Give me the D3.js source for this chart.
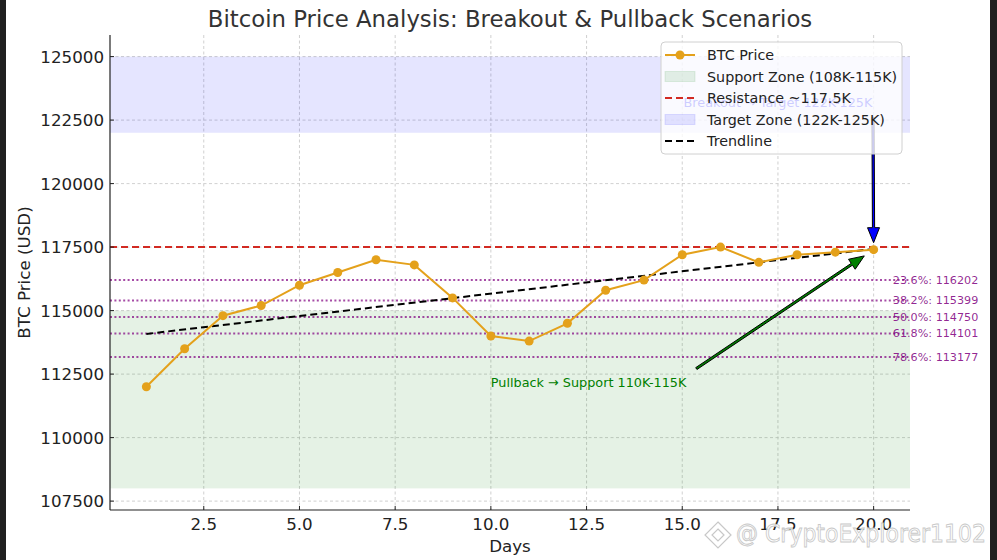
<!DOCTYPE html>
<html>
<head>
<meta charset="utf-8">
<script src="https://cdn.jsdelivr.net/npm/d3@7"></script>
<style>
  body { margin: 0; background: #fff; }
  svg { display: block; font-family: "DejaVu Sans", sans-serif; }
</style>
</head>
<body>
<div id="chart"></div>
<script>
// chart data
const days = [1, 2, 3, 4, 5, 6, 7, 8, 9, 10, 11, 12, 13, 14, 15, 16, 17, 18, 19, 20];
const prices = [112000, 113500, 114800, 115200, 116000, 116500, 117000, 116800, 115500, 114000,
                113800, 114500, 115800, 116200, 117200, 117500, 116900, 117200, 117300, 117400];
const fibRatios = [0.236, 0.382, 0.5, 0.618, 0.786];
const supportZone = [108000, 115000];
const targetZone = [122000, 125000];
const resistance = 117500;
const xTicks = [2.5, 5.0, 7.5, 10.0, 12.5, 15.0, 17.5, 20.0];
const yTicks = [107500, 110000, 112500, 115000, 117500, 120000, 122500, 125000];
const legendLabels = ["BTC Price", "Support Zone (108K-115K)", "Resistance ~117.5K", "Target Zone (122K-125K)", "Trendline"];
// annotations: text position -> arrow target
const breakoutText = "Breakout \u2192 Target 122K-125K";
const breakoutAt = [17.5, 123000];
const pullbackText = "Pullback \u2192 Support 110K-115K";
const pullbackAt = [10, 112000];
const arrowTarget = [20, 117400];

const W = 997, H = 560;
const pLeft = 110, pRight = 910, pTop = 35, pBottom = 510;

const svg = d3.select("#chart").append("svg")
  .attr("width", W).attr("height", H);

// dark screenshot edges
svg.append("rect").attr("x", 0).attr("y", 0).attr("width", 6).attr("height", H).attr("fill", "#202020");
svg.append("rect").attr("x", 990).attr("y", 0).attr("width", 7).attr("height", H).attr("fill", "#202020");

const x = d3.scaleLinear().domain([0.05, 20.95]).range([pLeft, pRight]);
const y = d3.scaleLinear().domain([107150, 125850]).range([pBottom, pTop]);

// grid
const grid = svg.append("g").attr("stroke", "#c4c4c4").attr("stroke-width", 0.8).attr("stroke-dasharray", "3,2.5");
grid.selectAll(".gx").data(xTicks).enter().append("line")
  .attr("x1", d => x(d)).attr("x2", d => x(d)).attr("y1", pTop).attr("y2", pBottom);
grid.selectAll(".gy").data(yTicks).enter().append("line")
  .attr("x1", pLeft).attr("x2", pRight).attr("y1", d => y(d)).attr("y2", d => y(d));

// zones
svg.append("rect").attr("x", pLeft).attr("width", pRight - pLeft)
  .attr("y", y(supportZone[1])).attr("height", y(supportZone[0]) - y(supportZone[1]))
  .attr("fill", "green").attr("fill-opacity", 0.1);
svg.append("rect").attr("x", pLeft).attr("width", pRight - pLeft)
  .attr("y", y(targetZone[1])).attr("height", y(targetZone[0]) - y(targetZone[1]))
  .attr("fill", "blue").attr("fill-opacity", 0.1);

// resistance
svg.append("line").attr("x1", pLeft).attr("x2", pRight)
  .attr("y1", y(resistance)).attr("y2", y(resistance))
  .attr("stroke", "#d22a22").attr("stroke-width", 2).attr("stroke-dasharray", "7,4");

// fibonacci retracement levels
const high = d3.max(prices), low = d3.min(prices);
const fibs = fibRatios.map(r => ({ r, v: high - r * (high - low) }));
svg.selectAll(".fib").data(fibs).enter().append("line")
  .attr("x1", pLeft).attr("x2", pRight)
  .attr("y1", d => y(d.v)).attr("y2", d => y(d.v))
  .attr("stroke", "#800080").attr("stroke-opacity", 0.7)
  .attr("stroke-width", 2).attr("stroke-dasharray", "2,2.4");
svg.selectAll(".fibt").data(fibs).enter().append("text")
  .attr("x", x(20.5)).attr("y", d => y(d.v)).attr("dy", "0.35em")
  .attr("font-size", 11.2).attr("fill", "#800080").attr("fill-opacity", 0.85)
  .text(d => `${(d.r * 100).toFixed(1)}%: ${Math.round(d.v)}`);

// trendline (least squares fit of price on day)
const mx = d3.mean(days), my = d3.mean(prices);
const slope = d3.sum(days, (d, i) => (d - mx) * (prices[i] - my)) / d3.sum(days, d => (d - mx) * (d - mx));
const trend = d => my + slope * (d - mx);
const tx = d3.extent(days);
svg.append("line")
  .attr("x1", x(tx[0])).attr("y1", y(trend(tx[0])))
  .attr("x2", x(tx[1])).attr("y2", y(trend(tx[1])))
  .attr("stroke", "#000").attr("stroke-width", 2).attr("stroke-dasharray", "7,4");

// price line
const series = days.map((d, i) => ({ d, p: prices[i] }));
svg.append("path").datum(series)
  .attr("fill", "none").attr("stroke", "#e4a11b").attr("stroke-width", 2)
  .attr("d", d3.line().x(d => x(d.d)).y(d => y(d.p)));
svg.selectAll(".pt").data(series).enter().append("circle")
  .attr("cx", d => x(d.d)).attr("cy", d => y(d.p)).attr("r", 4.5)
  .attr("fill", "#e4a11b");

// annotations with arrows (arrow starts at nearest text bbox edge, shrunk 5%)
function arrowPoly(x0, y0, x1, y1, w, hw, hl) {
  const dx = x1 - x0, dy = y1 - y0, L = Math.hypot(dx, dy);
  const ux = dx / L, uy = dy / L, nx = -uy, ny = ux;
  const bx = x1 - ux * hl, by = y1 - uy * hl;
  const p = [
    [x0 + nx * w / 2, y0 + ny * w / 2],
    [bx + nx * w / 2, by + ny * w / 2],
    [bx + nx * hw / 2, by + ny * hw / 2],
    [x1, y1],
    [bx - nx * hw / 2, by - ny * hw / 2],
    [bx - nx * w / 2, by - ny * w / 2],
    [x0 - nx * w / 2, y0 - ny * w / 2]
  ];
  return p.map(q => q.join(",")).join(" ");
}

function annotate(txt, at, anchor, color, face) {
  const t = svg.append("text")
    .attr("x", x(at[0])).attr("y", y(at[1]))
    .attr("text-anchor", anchor).attr("font-size", 12.8).attr("fill", color)
    .text(txt);
  const b = t.node().getBBox();
  const px = x(arrowTarget[0]), py = y(arrowTarget[1]);
  const cx = [b.x, b.x + b.width / 2, b.x + b.width];
  const cy = [b.y, b.y + b.height / 2, b.y + b.height];
  const sx = cx.reduce((a, c) => Math.abs(c - px) < Math.abs(a - px) ? c : a);
  const sy = cy.reduce((a, c) => Math.abs(c - py) < Math.abs(a - py) ? c : a);
  const dx = px - sx, dy = py - sy;
  svg.append("polygon")
    .attr("points", arrowPoly(sx + dx * 0.05, sy + dy * 0.05, px - dx * 0.05, py - dy * 0.05, 2.2, 12, 15))
    .attr("fill", face).attr("stroke", "#000").attr("stroke-width", 1);
}
annotate(breakoutText, breakoutAt, "middle", "blue", "blue");
annotate(pullbackText, pullbackAt, "start", "green", "green");

// axes spines and ticks (ticks point inward)
const axis = svg.append("g").attr("stroke", "#222");
axis.append("line").attr("x1", pLeft).attr("x2", pLeft).attr("y1", pTop).attr("y2", pBottom).attr("stroke-width", 1.2);
axis.append("line").attr("x1", pLeft).attr("x2", pRight).attr("y1", pBottom).attr("y2", pBottom).attr("stroke-width", 1.2);
axis.selectAll(".tx").data(xTicks).enter().append("line")
  .attr("x1", d => x(d)).attr("x2", d => x(d)).attr("y1", pBottom).attr("y2", pBottom - 4);
axis.selectAll(".ty").data(yTicks).enter().append("line")
  .attr("x1", pLeft).attr("x2", pLeft + 4).attr("y1", d => y(d)).attr("y2", d => y(d));

svg.selectAll(".xl").data(xTicks).enter().append("text")
  .attr("x", d => x(d)).attr("y", 530).attr("text-anchor", "middle")
  .attr("font-size", 16.7).attr("fill", "#222").text(d3.format(".1f"));
svg.selectAll(".yl").data(yTicks).enter().append("text")
  .attr("x", 104).attr("y", d => y(d)).attr("dy", "0.36em").attr("text-anchor", "end")
  .attr("font-size", 16.7).attr("fill", "#222").text(d => d);

svg.append("text").attr("x", (pLeft + pRight) / 2).attr("y", 552).attr("text-anchor", "middle")
  .attr("font-size", 16.7).attr("fill", "#222").text("Days");
svg.append("text").attr("transform", `translate(30,${(pTop + pBottom) / 2}) rotate(-90)`)
  .attr("text-anchor", "middle").attr("font-size", 16.7).attr("fill", "#222").text("BTC Price (USD)");
svg.append("text").attr("x", (pLeft + pRight) / 2).attr("y", 27).attr("text-anchor", "middle")
  .attr("font-size", 22.8).attr("fill", "#333").text("Bitcoin Price Analysis: Breakout & Pullback Scenarios");

// legend
const lg = svg.append("g").attr("transform", "translate(661,42)");
lg.append("rect").attr("width", 241).attr("height", 112).attr("rx", 4)
  .attr("fill", "#fff").attr("fill-opacity", 0.8).attr("stroke", "#d0d0d0");
const rowY = i => 13 + i * 21.5;
legendLabels.forEach((lab, i) => {
  const g = lg.append("g").attr("transform", `translate(0,${rowY(i)})`);
  if (i === 0) {
    g.append("line").attr("x1", 4).attr("x2", 34).attr("stroke", "#e4a11b").attr("stroke-width", 2);
    g.append("circle").attr("cx", 19).attr("r", 4.5).attr("fill", "#e4a11b");
  } else if (i === 1 || i === 3) {
    const c = i === 1 ? "green" : "blue";
    g.append("rect").attr("x", 4).attr("y", -5).attr("width", 30).attr("height", 10)
      .attr("fill", c).attr("fill-opacity", 0.1).attr("stroke", c).attr("stroke-opacity", 0.1);
  } else {
    g.append("line").attr("x1", 4).attr("x2", 34)
      .attr("stroke", i === 2 ? "#d22a22" : "#000").attr("stroke-width", 2).attr("stroke-dasharray", "7,4");
  }
  g.append("text").attr("x", 46).attr("dy", "0.35em").attr("font-size", 14.3).attr("fill", "#222").text(lab);
});

// watermark
const wm = svg.append("g").attr("fill", "#fff").attr("fill-opacity", 0.85).attr("stroke", "#c8c8c8");
wm.append("path").attr("d", "M718,522 L731,535 L718,548 L705,535 Z M718,529 L724,535 L718,541 L712,535 Z")
  .attr("stroke-width", 1.2);
wm.append("text").attr("x", 736).attr("y", 542).attr("font-size", 25).attr("stroke-width", 0.9)
  .attr("textLength", 250).attr("lengthAdjust", "spacingAndGlyphs")
  .text("@ CryptoExplorer1102");
</script>
</body>
</html>
